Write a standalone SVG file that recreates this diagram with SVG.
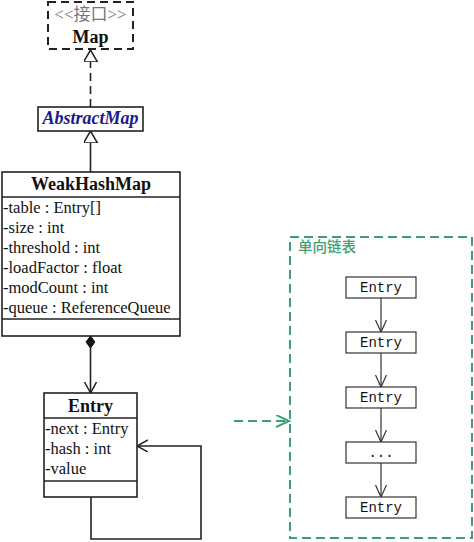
<svg xmlns="http://www.w3.org/2000/svg" width="474" height="542" viewBox="0 0 474 542">
<style>
.box{fill:#fff;stroke:#222;stroke-width:1.6}
.ln{fill:none;stroke:#222;stroke-width:1.6}
.t{font-family:"Liberation Serif","Noto Sans CJK SC",serif;fill:#111}
.b{font-weight:bold;font-size:18px;text-anchor:middle}
.a{font-size:16.5px}
.m{font-family:"Liberation Mono",monospace;font-size:14px;fill:#111;text-anchor:middle}
.sbox{fill:#fff;stroke:#333;stroke-width:1.2}
.sl{fill:none;stroke:#333;stroke-width:1.2}
.g{fill:none;stroke:#3e9f70;stroke-width:2;stroke-dasharray:9 5}
</style>
<defs>
<marker id="open" markerUnits="userSpaceOnUse" markerWidth="14" markerHeight="14" refX="11" refY="6" orient="auto">
<path d="M0,0 L11,6 L0,12" fill="none" stroke="#222" stroke-width="1.5"/>
</marker>
<marker id="openS" markerUnits="userSpaceOnUse" markerWidth="14" markerHeight="14" refX="12" refY="5.5" orient="auto">
<path d="M0,0 L12,5.5 L0,11" fill="none" stroke="#333" stroke-width="1.2"/>
</marker>
<marker id="openG" markerUnits="userSpaceOnUse" markerWidth="16" markerHeight="14" refX="13" refY="6" orient="auto">
<path d="M0,0 L13,6 L0,12" fill="none" stroke="#3e9f70" stroke-width="2"/>
</marker>
<marker id="tri" markerUnits="userSpaceOnUse" markerWidth="16" markerHeight="16" refX="12" refY="7" orient="auto">
<path d="M0,0 L12,7 L0,14 Z" fill="#fff" stroke="#222" stroke-width="1.5"/>
</marker>
<marker id="dia" markerUnits="userSpaceOnUse" markerWidth="14" markerHeight="12" refX="0" refY="4.5" orient="auto">
<path d="M0,4.5 L6,0 L12,4.5 L6,9 Z" fill="#111" stroke="#111" stroke-width="1"/>
</marker>
</defs>

<g id="connectors">
<line x1="90.5" y1="107" x2="90.5" y2="50" class="ln" stroke-dasharray="8 5" marker-end="url(#tri)"/>
<line x1="90.5" y1="172" x2="90.5" y2="131" class="ln" marker-end="url(#tri)"/>
<line x1="90.5" y1="336" x2="90.5" y2="393" class="ln" marker-start="url(#dia)" marker-end="url(#open)"/>
<polyline points="91,497 91,539 201,539 201,446 137,446" class="ln" marker-end="url(#open)"/>
<line x1="234" y1="421" x2="289" y2="421" class="g" marker-end="url(#openG)"/>
<line x1="381" y1="298" x2="381" y2="332" class="sl" marker-end="url(#openS)"/>
<line x1="381" y1="353" x2="381" y2="387" class="sl" marker-end="url(#openS)"/>
<line x1="381" y1="408" x2="381" y2="442" class="sl" marker-end="url(#openS)"/>
<line x1="381" y1="463" x2="381" y2="497" class="sl" marker-end="url(#openS)"/>
</g>

<g id="map">
<rect x="48" y="2" width="85" height="47" fill="#fff" stroke="#222" stroke-width="2" stroke-dasharray="8 5"/>
<text x="90.5" y="20" class="t" font-size="17" text-anchor="middle" style="fill:#777">&lt;&lt;接口&gt;&gt;</text>
<text x="90.5" y="43" class="t b">Map</text>
</g>

<g id="abstractmap">
<rect x="38" y="107" width="105" height="24" class="box"/>
<text x="90.5" y="124" class="t b" font-style="italic" style="fill:#1a1a8c">AbstractMap</text>
</g>

<g id="weakhashmap">
<rect x="2" y="172" width="178" height="164" class="box"/>
<line x1="2" y1="197" x2="180" y2="197" class="ln"/>
<line x1="2" y1="319" x2="180" y2="319" class="ln"/>
<text x="91" y="190" class="t b">WeakHashMap</text>
<text x="3" y="213" class="t a">-table : Entry[]</text>
<text x="3" y="233" class="t a">-size : int</text>
<text x="3" y="253" class="t a">-threshold : int</text>
<text x="3" y="273" class="t a">-loadFactor : float</text>
<text x="3" y="293" class="t a">-modCount : int</text>
<text x="3" y="313" class="t a">-queue : ReferenceQueue</text>
</g>

<g id="entry">
<rect x="44" y="393" width="93" height="104" class="box"/>
<line x1="44" y1="418" x2="137" y2="418" class="ln"/>
<line x1="44" y1="481" x2="137" y2="481" class="ln"/>
<text x="90.5" y="412" class="t b">Entry</text>
<text x="45" y="434" class="t a">-next : Entry</text>
<text x="45" y="454" class="t a">-hash : int</text>
<text x="45" y="474" class="t a">-value</text>
</g>

<g id="linkedlist">
<rect x="290" y="237" width="182" height="301" class="g"/>
<text x="298" y="252" font-family="'Noto Sans CJK SC',sans-serif" font-size="14.5" font-weight="500" fill="#3e9f70">单向链表</text>
</g>

<g id="list-entry-1">
<rect x="346" y="277" width="70" height="21" class="sbox"/>
<text x="381" y="292" class="m">Entry</text>
</g>
<g id="list-entry-2">
<rect x="346" y="332" width="70" height="21" class="sbox"/>
<text x="381" y="347" class="m">Entry</text>
</g>
<g id="list-entry-3">
<rect x="346" y="387" width="70" height="21" class="sbox"/>
<text x="381" y="402" class="m">Entry</text>
</g>
<g id="list-ellipsis">
<rect x="346" y="442" width="70" height="21" class="sbox"/>
<text x="381" y="457" class="m">...</text>
</g>
<g id="list-entry-5">
<rect x="346" y="497" width="70" height="21" class="sbox"/>
<text x="381" y="512" class="m">Entry</text>
</g>
</svg>
